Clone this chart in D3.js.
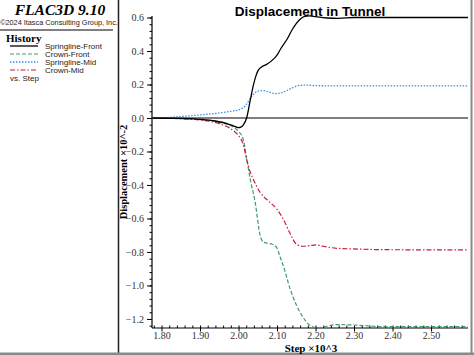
<!DOCTYPE html>
<html><head><meta charset="utf-8">
<script src="https://cdn.jsdelivr.net/npm/d3@7"></script>
<style>body{margin:0;background:#fff}svg{display:block}</style>
</head><body>
<svg id="chart" width="474" height="355"></svg>
<script>
// Step (x10^3) and displacement (x10^-2) values
const springFrontStep = [1.776,1.85,1.90,1.94,1.97,1.99,2.00,2.006,2.013,2.021,2.03,2.038,2.045,2.05,2.06,2.073,2.09,2.10,2.11,2.126,2.14,2.16,2.17,2.185,2.20,2.23,2.26,2.30,2.40,2.50,2.596];
const springFrontVal  = [0,-0.002,-0.008,-0.018,-0.033,-0.05,-0.058,-0.055,-0.04,0.0,0.10,0.19,0.25,0.28,0.305,0.32,0.35,0.375,0.415,0.47,0.53,0.59,0.605,0.61,0.605,0.597,0.595,0.60,0.60,0.60,0.60];

const crownFrontStep = [1.776,1.85,1.90,1.95,1.986,2.00,2.012,2.021,2.03,2.043,2.056,2.065,2.076,2.086,2.099,2.108,2.116,2.134,2.151,2.165,2.177,2.194,2.21,2.22,2.24,2.255,2.30,2.34,2.37,2.45,2.596];
const crownFrontVal  = [0,-0.004,-0.01,-0.026,-0.054,-0.08,-0.125,-0.24,-0.36,-0.50,-0.70,-0.742,-0.748,-0.752,-0.772,-0.83,-0.88,-1.02,-1.12,-1.18,-1.22,-1.248,-1.252,-1.248,-1.238,-1.234,-1.236,-1.242,-1.246,-1.246,-1.246];

const springMidStep = [1.776,1.80,1.85,1.90,1.95,1.985,2.00,2.012,2.02,2.03,2.038,2.05,2.062,2.075,2.087,2.099,2.11,2.125,2.14,2.16,2.18,2.20,2.25,2.30,2.45,2.596];
const springMidVal  = [0,0.001,0.009,0.018,0.03,0.042,0.048,0.062,0.08,0.115,0.14,0.16,0.164,0.158,0.149,0.146,0.15,0.163,0.18,0.195,0.196,0.193,0.192,0.192,0.192,0.192];

const crownMidStep = [1.776,1.85,1.90,1.95,1.986,2.00,2.012,2.021,2.03,2.038,2.056,2.077,2.099,2.116,2.134,2.151,2.168,2.185,2.203,2.22,2.255,2.30,2.368,2.45,2.596];
const crownMidVal  = [0,-0.005,-0.012,-0.034,-0.074,-0.105,-0.155,-0.245,-0.32,-0.364,-0.444,-0.494,-0.543,-0.603,-0.69,-0.755,-0.766,-0.762,-0.758,-0.766,-0.778,-0.782,-0.786,-0.787,-0.787];

const xTicks = [1.80,1.90,2.00,2.10,2.20,2.30,2.40,2.50];
const yTicks = [0.6,0.4,0.2,0.0,-0.2,-0.4,-0.6,-0.8,-1.0,-1.2];
const legendNames = ["Springline-Front","Crown-Front","Springline-Mid","Crown-Mid"];

const svg = d3.select("#chart");
const x = d3.scaleLinear().domain([1.7753, 2.596]).range([152, 468]);
const y = d3.scaleLinear().domain([-1.254, 0.609]).range([328, 16]);

const series = [
  {name: legendNames[0], step: springFrontStep, val: springFrontVal, color: "#000000", dash: null, w: 1.3},
  {name: legendNames[1], step: crownFrontStep, val: crownFrontVal, color: "#3f9a6e", dash: "4,2", w: 1.2},
  {name: legendNames[2], step: springMidStep, val: springMidVal, color: "#3b8ee6", dash: "1.5,1.5", w: 1.3},
  {name: legendNames[3], step: crownMidStep, val: crownMidVal, color: "#c41e3a", dash: "5,2,1.5,2", w: 1.2}
];

// Frame elements
svg.append("line").attr("x1",118.5).attr("x2",118.5).attr("y1",0).attr("y2",355).attr("stroke","#222").attr("stroke-width",1.5);
svg.append("rect").attr("x",0).attr("y",352.5).attr("width",474).attr("height",3).attr("fill","#8a8a8a");
svg.append("line").attr("x1",471.5).attr("x2",471.5).attr("y1",0).attr("y2",353).attr("stroke","#8a8a8a").attr("stroke-width",2);

// Left panel
svg.append("text").attr("x",60).attr("y",15).attr("text-anchor","middle")
  .attr("font-family","Liberation Serif, serif").attr("font-weight","bold").attr("font-style","italic")
  .attr("font-size",15.5).attr("fill","#000").text("FLAC3D 9.10");
svg.append("text").attr("x",59).attr("y",24.5).attr("text-anchor","middle")
  .attr("font-family","Liberation Sans, Arial, sans-serif").attr("font-size",7.3).attr("fill","#222")
  .text("©2024 Itasca Consulting Group, Inc.");
svg.append("line").attr("x1",0).attr("x2",113).attr("y1",30).attr("y2",30).attr("stroke","#000").attr("stroke-width",1);
svg.append("text").attr("x",6).attr("y",41.5)
  .attr("font-family","Liberation Serif, serif").attr("font-weight","bold").attr("font-size",11).attr("fill","#000").text("History");
const lg = svg.append("g");
series.forEach((s,i)=>{
  const yy = 46 + i*8;
  lg.append("line").attr("x1",10).attr("x2",38).attr("y1",yy).attr("y2",yy)
    .attr("stroke",s.color).attr("stroke-width",s.w).attr("stroke-dasharray",s.dash);
  lg.append("text").attr("x",45).attr("y",yy+2.9)
    .attr("font-family","Liberation Sans, Arial, sans-serif").attr("font-size",8).attr("fill","#222").text(s.name);
});
svg.append("text").attr("x",10).attr("y",80.5)
  .attr("font-family","Liberation Sans, Arial, sans-serif").attr("font-size",8).attr("fill","#222").text("vs. Step");

// Title
svg.append("text").attr("x",310).attr("y",15.5).attr("text-anchor","middle")
  .attr("font-family","Liberation Sans, Arial, sans-serif").attr("font-weight","bold").attr("font-size",13.5)
  .attr("fill","#000").text("Displacement in Tunnel");

// Axes
const yMinor = d3.range(-1.24, 0.6001, 0.04).map(v=>+v.toFixed(2));
const xMinor = d3.range(1.78, 2.5901, 0.02).map(v=>+v.toFixed(2));
const yAxisMinor = d3.axisLeft(y).tickValues(yMinor).tickSize(2.5).tickFormat("");
const yAxis = d3.axisLeft(y).tickValues(yTicks).tickSize(5).tickPadding(3).tickFormat(d3.format(".1f"));
const xAxisMinor = d3.axisBottom(x).tickValues(xMinor).tickSize(-2.5).tickFormat("");
const xAxis = d3.axisBottom(x).tickValues(xTicks).tickSize(3.5).tickPadding(0.5).tickFormat(d3.format(".2f"));

function styleAxis(g){
  g.select(".domain").remove();
  g.selectAll("line").attr("stroke","#000");
  g.selectAll("text").attr("font-family","Liberation Serif, serif").attr("font-size",10).attr("fill","#333");
}
svg.append("g").attr("transform","translate(152,0)").call(yAxisMinor).call(styleAxis);
svg.append("g").attr("transform","translate(152,0)").call(yAxis).call(styleAxis);
svg.append("g").attr("transform","translate(0,328)").call(xAxisMinor).call(styleAxis);
svg.append("g").attr("transform","translate(0,328)").call(xAxis).call(styleAxis);
svg.append("line").attr("x1",152).attr("x2",152).attr("y1",y(0.609)).attr("y2",328).attr("stroke","#000").attr("stroke-width",1.2);
svg.append("line").attr("x1",152).attr("x2",468).attr("y1",328).attr("y2",328).attr("stroke","#000").attr("stroke-width",1.2);

// zero line
svg.append("line").attr("x1",x(1.7753)).attr("x2",x(2.596)).attr("y1",y(0)).attr("y2",y(0)).attr("stroke","#000").attr("stroke-width",1.2);

// Axis labels
svg.append("text").attr("transform","translate(127,172) rotate(-90)").attr("text-anchor","middle")
  .attr("font-family","Liberation Serif, serif").attr("font-weight","bold").attr("font-size",10.5).attr("fill","#000")
  .text("Displacement ×10^-2");
svg.append("text").attr("x",311).attr("y",351.5).attr("text-anchor","middle")
  .attr("font-family","Liberation Serif, serif").attr("font-weight","bold").attr("font-size",11).attr("fill","#000")
  .text("Step ×10^3");

// Lines
const line = d3.line().x(d=>x(d[0])).y(d=>y(d[1])).curve(d3.curveMonotoneX);
[series[1], series[3], series[2], series[0]].forEach(s=>{
  const pts = s.step.map((t,i)=>[t, s.val[i]]);
  svg.append("path").datum(pts).attr("d",line).attr("fill","none")
    .attr("stroke",s.color).attr("stroke-width",s.w).attr("stroke-dasharray",s.dash);
});
</script>
</body></html>
